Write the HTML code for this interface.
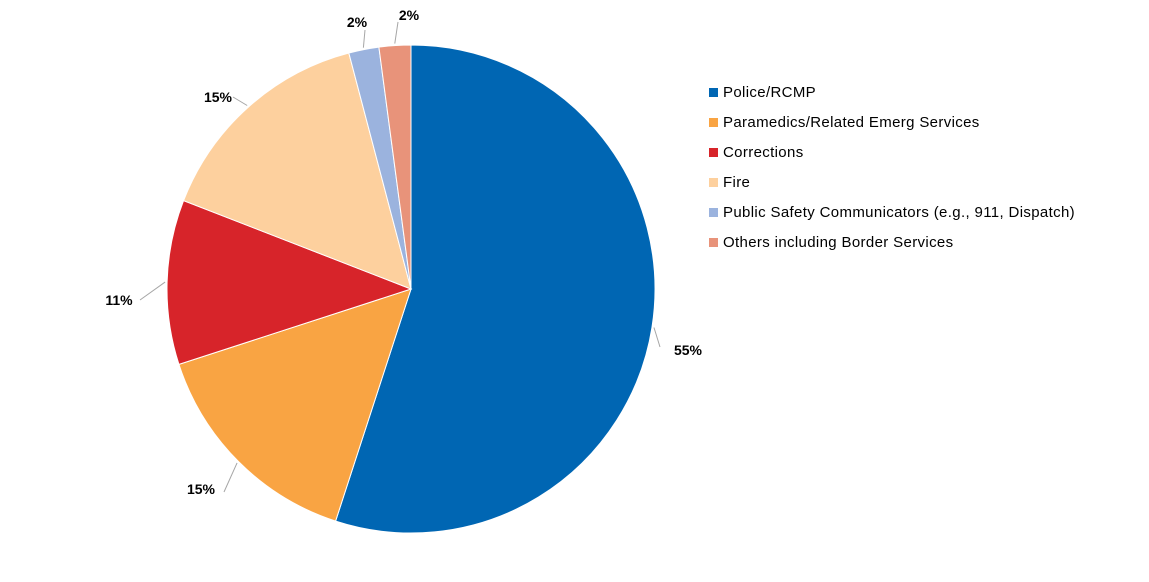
<!DOCTYPE html>
<html><head><meta charset="utf-8"><style>
body{margin:0;background:#fff;width:1149px;height:577px;overflow:hidden;font-family:"Liberation Sans",sans-serif}
svg text{font-family:"Liberation Sans",sans-serif}
</style></head><body>
<svg id="chart" width="1149" height="577" xmlns="http://www.w3.org/2000/svg"></svg>
<script>
const categories=["Police/RCMP","Paramedics/Related Emerg Services","Corrections","Fire","Public Safety Communicators (e.g., 911, Dispatch)","Others including Border Services"];
const values=[55,15,10.9,15,2,2.1];
const valueLabels=["55%","15%","11%","15%","2%","2%"];
const colors=["#0066B3","#F9A443","#D7242A","#FDD09E","#9BB3DE","#E8937A"];
const NS="http://www.w3.org/2000/svg";
const svg=document.getElementById('chart');
const cx=411,cy=289,r=244;
function mk(t,a){const e=document.createElementNS(NS,t);for(const k in a)e.setAttribute(k,a[k]);return e;}
function pt(ang,rad){return [cx+rad*Math.sin(ang),cy-rad*Math.cos(ang)];}
const total=values.reduce((a,b)=>a+b,0);
let start=0;
const labelPos=[[688,350],[201,489],[119,300],[218,97],[357,22],[409,15]];
const leaderEnd=[[660,347],[224,492],[140,300],[233,97],[365,30],[398,22]];
values.forEach((v,i)=>{
  const a0=start/total*2*Math.PI, a1=(start+v)/total*2*Math.PI; start+=v;
  const p0=pt(a0,r),p1=pt(a1,r);
  const large=(a1-a0)>Math.PI?1:0;
  const p=mk('path',{d:`M${cx},${cy}L${p0[0]},${p0[1]}A${r},${r} 0 ${large} 1 ${p1[0]},${p1[1]}Z`,fill:colors[i],stroke:'#fff','stroke-width':1});
  
  
  svg.appendChild(p);
  const mid=(a0+a1)/2, e=pt(mid,r+2), le=leaderEnd[i];
  const l=mk('polyline',{points:`${e[0]},${e[1]} ${le[0]},${le[1]}`,fill:'none',stroke:'#a6a6a6','stroke-width':1});
  
  
  svg.appendChild(l);
  const lp=labelPos[i];
  const t=mk('text',{x:lp[0],y:lp[1]+5,'font-size':14,'font-weight':'bold','text-anchor':'middle',fill:'#000'});
  t.textContent=valueLabels[i];
  
  
  svg.appendChild(t);
});
categories.forEach((c,i)=>{
  const y=92+i*30;
  const g=mk('g',{});
  
  
  g.appendChild(mk('rect',{x:709,y:y-4,width:9,height:9,fill:colors[i]}));
  const t=mk('text',{x:723,y:y+5,'font-size':15,'letter-spacing':'0.35',fill:'#000'});
  t.textContent=c;
  g.appendChild(t);
  svg.appendChild(g);
});
</script>
</body></html>
